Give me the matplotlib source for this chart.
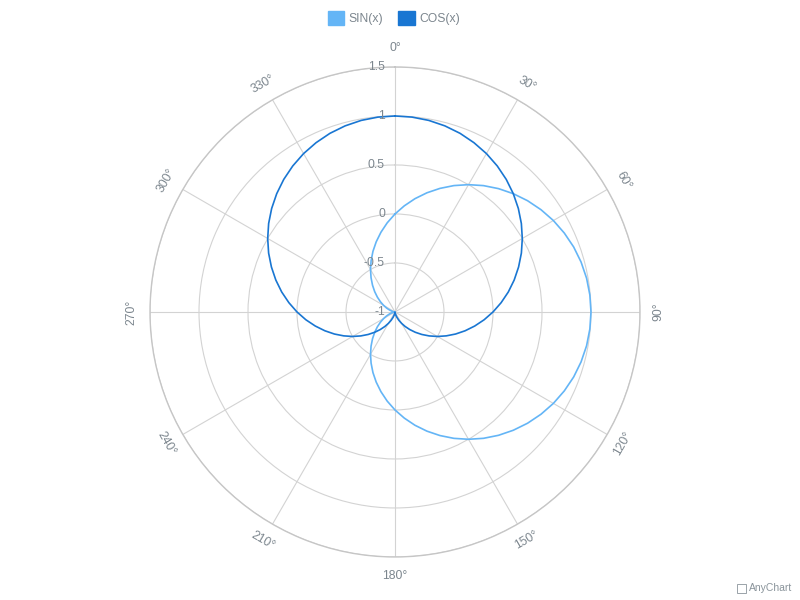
import numpy as np
import matplotlib
matplotlib.use('Agg')
import matplotlib.pyplot as plt
from matplotlib.patches import Patch, Rectangle

plt.rcParams['font.family'] = ['Liberation Sans', 'DejaVu Sans']

# ---- data (angle in degrees, value) ----
angles_deg = list(range(0, 365, 5))
sin_vals = [0, .087, .174, .259, .342, .423, .5, .574, .643, .707, .766, .819, .866, .906, .94,
            .966, .985, .996, 1,
            .996, .985, .966, .94, .906, .866, .819, .766, .707, .643, .574, .5, .423, .342,
            .259, .174, .087, 0,
            -.087, -.174, -.259, -.342, -.423, -.5, -.574, -.643, -.707, -.766, -.819, -.866,
            -.906, -.94, -.966, -.985, -.996, -1,
            -.996, -.985, -.966, -.94, -.906, -.866, -.819, -.766, -.707, -.643, -.574, -.5,
            -.423, -.342, -.259, -.174, -.087, 0]
cos_vals = [1, .996, .985, .966, .94, .906, .866, .819, .766, .707, .643, .574, .5, .423, .342,
            .259, .174, .087, 0,
            -.087, -.174, -.259, -.342, -.423, -.5, -.574, -.643, -.707, -.766, -.819, -.866,
            -.906, -.94, -.966, -.985, -.996, -1,
            -.996, -.985, -.966, -.94, -.906, -.866, -.819, -.766, -.707, -.643, -.574, -.5,
            -.423, -.342, -.259, -.174, -.087, 0,
            .087, .174, .259, .342, .423, .5, .574, .643, .707, .766, .819, .866, .906, .94,
            .966, .985, .996, 1]

r_ticks = [-1, -0.5, 0, 0.5, 1, 1.5]
r_labels = ['-1', '-0.5', '0', '0.5', '1', '1.5']
theta_ticks = list(range(0, 360, 30))

sin_color = '#64b5f6'
cos_color = '#1976d2'
grid_color = '#d3d3d3'
text_color = '#7c868e'

fig = plt.figure(figsize=(8, 6), dpi=100)
ax = fig.add_axes([0.1875, 0.0717, 0.6125, 0.8167], projection='polar')
ax.set_theta_zero_location('N')
ax.set_theta_direction(-1)
ax.set_ylim(-1, 1.5)

theta = np.deg2rad(angles_deg)
ax.plot(theta, sin_vals, color=sin_color, lw=1.2, zorder=3)
ax.plot(theta, cos_vals, color=cos_color, lw=1.2, zorder=4)

# grid
ax.set_yticks(r_ticks)
ax.set_yticklabels([])
ax.set_xticks(np.deg2rad(theta_ticks))
ax.set_xticklabels([])
ax.grid(True, color=grid_color, lw=0.8)
ax.spines['polar'].set_color('#c6c6c6')
ax.spines['polar'].set_linewidth(1.0)
ax.tick_params(axis='x', direction='out', length=6, color=grid_color, width=0.8)

# radial labels along the 0 deg line
for r, lab in zip(r_ticks, r_labels):
    ax.annotate(lab, xy=(0, r), xytext=(-10, 0), textcoords='offset pixels',
                ha='right', va='center', fontsize=8.7, color=text_color, zorder=5)

# angle labels, rotated along the circle
for t in theta_ticks:
    rot = -t
    while rot <= -90:
        rot += 180
    while rot > 90:
        rot -= 180
    ax.text(np.deg2rad(t), 1.69, f'{t}°', ha='center', va='center', rotation=rot,
            rotation_mode='anchor', fontsize=8.7, color=text_color, clip_on=False)

# legend
handles = [Patch(facecolor=sin_color, edgecolor=sin_color, label='SIN(x)'),
           Patch(facecolor=cos_color, edgecolor=cos_color, label='COS(x)')]
leg = fig.legend(handles=handles, loc='center', bbox_to_anchor=(0.492, 0.97), ncol=2,
                 frameon=False, fontsize=8.7, handlelength=1.35, handleheight=1.35,
                 handletextpad=0.35, columnspacing=1.3)
for txt in leg.get_texts():
    txt.set_color(text_color)

# credits
fig.patches.append(Rectangle((0.9215, 0.0125), 0.011, 0.0145, transform=fig.transFigure,
                             fill=False, edgecolor='#8a949b', lw=0.6))
fig.text(0.9365, 0.02, 'AnyChart', fontsize=7.5, color='#8a949b', ha='left', va='center')

fig.savefig('out.png', dpi=100)
